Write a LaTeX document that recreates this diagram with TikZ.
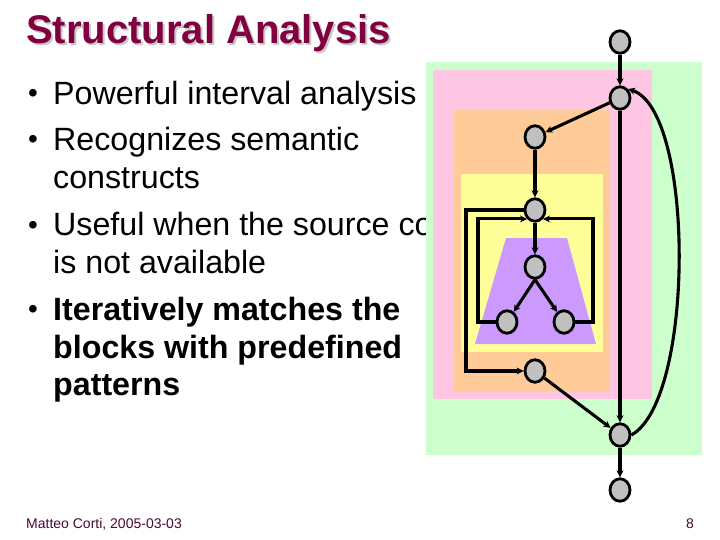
\documentclass[tikz,border=0pt]{standalone}
\usepackage{fontspec}
\setmainfont{Liberation Sans}
\usetikzlibrary{shapes.geometric,arrows.meta}
\definecolor{titlec}{HTML}{800040}
\definecolor{footc}{HTML}{4A0A30}
\definecolor{cgreen}{HTML}{CCFFCC}
\definecolor{cpink}{HTML}{FFC6E4}
\definecolor{corange}{HTML}{FFCC99}
\definecolor{cyellow}{HTML}{FFFF99}
\definecolor{cpurple}{HTML}{CC99FF}
\definecolor{cnode}{HTML}{C0C0C0}
\definecolor{shadowc}{HTML}{C8C8C8}
\tikzset{
  bnode/.style={ellipse,draw=black,fill=cnode,line width=2.8pt,minimum width=20pt,minimum height=22.5pt,inner sep=0pt},
  arr/.style={line width=3.1pt,-{Stealth[length=7pt,width=7pt]}},
  txt/.style={anchor=base west,inner sep=0pt,font=\fontsize{32.2}{36}\selectfont},
  btxt/.style={anchor=base west,inner sep=0pt,font=\fontsize{32.2}{36}\selectfont\bfseries},
  bul/.style={anchor=base west,inner sep=0pt,font=\fontsize{28}{30}\selectfont}
}
\begin{document}
\begin{tikzpicture}[x=1pt,y=-1pt]
\useasboundingbox (0,0) rectangle (720,540);
\fill[white] (0,0) rectangle (720,540);
% title with shadow
\node[anchor=base west,inner sep=0pt,font=\fontsize{40}{44}\selectfont\bfseries,text=titlec] (title) at (26,44)
  {\makebox[0pt][l]{\kern2pt\raisebox{-2pt}{\textcolor{shadowc}{Structural Analysis}}}Structural Analysis};
% bullets
\node[bul] (b1) at (28,103) {•};
\node[txt] (t1) at (53,105) {Powerful interval analysis};
\node[bul] (b2) at (28,149) {•};
\node[txt] (t2) at (53,151) {Recognizes semantic};
\node[txt] (t2b) at (53,189) {constructs};
\node[bul] (b3) at (28,234) {•};
\node[txt] (t3) at (53,236) {Useful when the source code};
\node[txt] (t3b) at (53,273) {is not available};
\node[bul] (b4) at (28,318) {•};
\node[btxt] (t4) at (53,320) {Iteratively matches the};
\node[btxt] (t4b) at (53,358) {blocks with predefined};
\node[btxt] (t4c) at (53,395) {patterns};
% footer
\node[anchor=base west,inner sep=0pt,font=\fontsize{14}{16}\selectfont,text=footc] (foot) at (26,528) {Matteo Corti, 2005-03-03};
\node[anchor=base east,inner sep=0pt,font=\fontsize{14}{16}\selectfont,text=footc] (page) at (694,528) {8};
% nested regions
\fill[cgreen] (426,62) rectangle (702,455);
\fill[cpink] (433,70) rectangle (652,399);
\fill[corange] (454,110) rectangle (610,392);
\fill[cyellow] (461,174) rectangle (603,352);
\fill[cpurple] (506,238) -- (567,238) -- (596,344) -- (475,344) -- cycle;
% nodes
\node[bnode] (n1) at (620,42) {};
\node[bnode] (n2) at (620,98) {};
\node[bnode] (n3) at (535,137) {};
\node[bnode] (n4) at (535,210) {};
\node[bnode] (n5) at (535,267) {};
\node[bnode] (n6) at (507,322) {};
\node[bnode] (n7) at (564,322) {};
\node[bnode] (n8) at (535,371) {};
\node[bnode] (n9) at (620,435) {};
\node[bnode] (n10) at (620,490) {};
\coordinate (cl1) at (478,322);
\coordinate (cr1) at (593,322);
\coordinate (cl2) at (466,210);
% edges
\draw[arr] (n1) -- (n2);
\draw[arr] (n2) -- (n3);
\draw[arr] (n3) -- (n4);
\draw[arr] (n4) -- (n5);
\draw[arr] (n5.south) -- (n6);
\draw[arr] (n5.south) -- (n7);
\draw[arr] (n6.west) -- (cl1) |- (n4.south west);
\draw[arr] (n7.east) -- (cr1) |- (n4.south east);
\draw[arr] (n4.west) -- (cl2) |- (n8.west);
\draw[arr] (n8) -- (n9);
\draw[arr] (n2) -- (n9);
\draw[arr] (n9) -- (n10);
\draw[arr] (n9.east) .. controls (695,400) and (695,110) .. (n2.north east);
\end{tikzpicture}
\end{document}
